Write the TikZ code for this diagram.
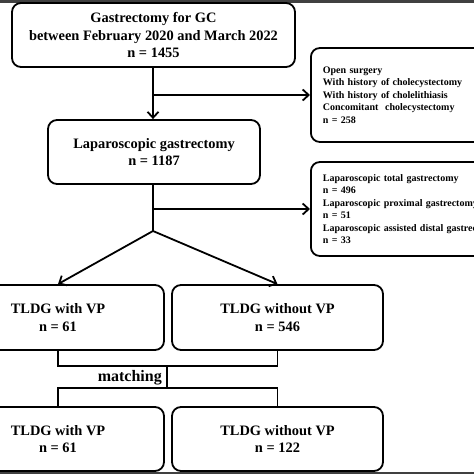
\documentclass[tikz,border=0pt]{standalone}
\usepackage{fontspec}
\setmainfont{Liberation Serif}
\usetikzlibrary{arrows.meta}

\begin{document}
\begin{tikzpicture}[x=1pt,y=-1pt]
        \tikzstyle{box}=[draw, line width=1.8pt, rounded corners=9pt, align=center, inner sep=0pt,
            font=\fontsize{14.4}{17.5}\selectfont\bfseries]
        \tikzstyle{side}=[draw, line width=1.8pt, rounded corners=9pt, align=left, anchor=west,
            text width=190pt, inner xsep=12pt, minimum height=94pt,
            font=\fontsize{10}{12.4}\selectfont\bfseries]
        \tikzstyle{link}=[line width=1.8pt, -{Straight Barb[length=6pt,width=11pt]}]
        \tikzstyle{bracket}=[line width=1.8pt]

        \useasboundingbox (0,0) rectangle (474,474);
        \clip (0,0) rectangle (474,474);

        % Edges of the page
        \fill[black!75] (0,0) rectangle (474,2.5);
        \fill[black!75] (0,471.5) rectangle (474,474);

        % Draw boxes
        \node[box, minimum width=283pt, minimum height=64pt] (gc) at (153.5,35)
            {Gastrectomy for GC\\between February 2020 and March 2022\\n = 1455};
        \node[box, minimum width=212pt, minimum height=64pt] (lap) at (154,152)
            {Laparoscopic gastrectomy\\n = 1187};
        \node[side] (excl) at (310,95)
            {Open surgery\\With history of cholecystectomy\\With history of cholelithiasis\\Concomitant\ \ cholecystectomy\\n = 258};
        \node[side] (other) at (310,209)
            {Laparoscopic total gastrectomy\\n = 496\\Laparoscopic proximal gastrectomy\\n = 51\\Laparoscopic assisted distal gastrectomy\\n = 33};

        \node[box, minimum width=212pt, minimum height=65pt] (vpa) at (58,317.5) {TLDG with VP\\n = 61};
        \node[box, minimum width=211pt, minimum height=65pt] (novpa) at (277.5,317.5) {TLDG without VP\\n = 546};
        \node[box, minimum width=212pt, minimum height=64pt] (vpb) at (58,439) {TLDG with VP\\n = 61};
        \node[box, minimum width=211pt, minimum height=64pt] (novpb) at (277.5,439) {TLDG without VP\\n = 122};

        % Add connectors
        \coordinate (cut1) at (153,95);
        \coordinate (cut2) at (153,209);
        \coordinate (split) at (153,231);
        \draw[link] (gc.south -| cut1) -- (lap.north -| cut1);
        \draw[link] (cut1) -- (excl.west);
        \draw[bracket] (lap.south -| cut2) -- (split);
        \draw[link] (cut2) -- (other.west);
        \draw[link] (split) -- (vpa.north);
        \draw[link] (split) -- (novpa.north);

        % Add matching bracket
        \coordinate (mtop) at (167,366);
        \coordinate (mbot) at (167,388);
        \draw[bracket] (vpa.south) |- (mtop) -| (novpa.south);
        \draw[bracket] (mtop) -- (mbot);
        \draw[bracket] (vpb.north) |- (mbot) -| (novpb.north);
        \node[anchor=east, font=\fontsize{16}{18}\selectfont\bfseries, inner sep=0pt] (match) at (162,377.5) {matching};
    \end{tikzpicture}
\end{document}
